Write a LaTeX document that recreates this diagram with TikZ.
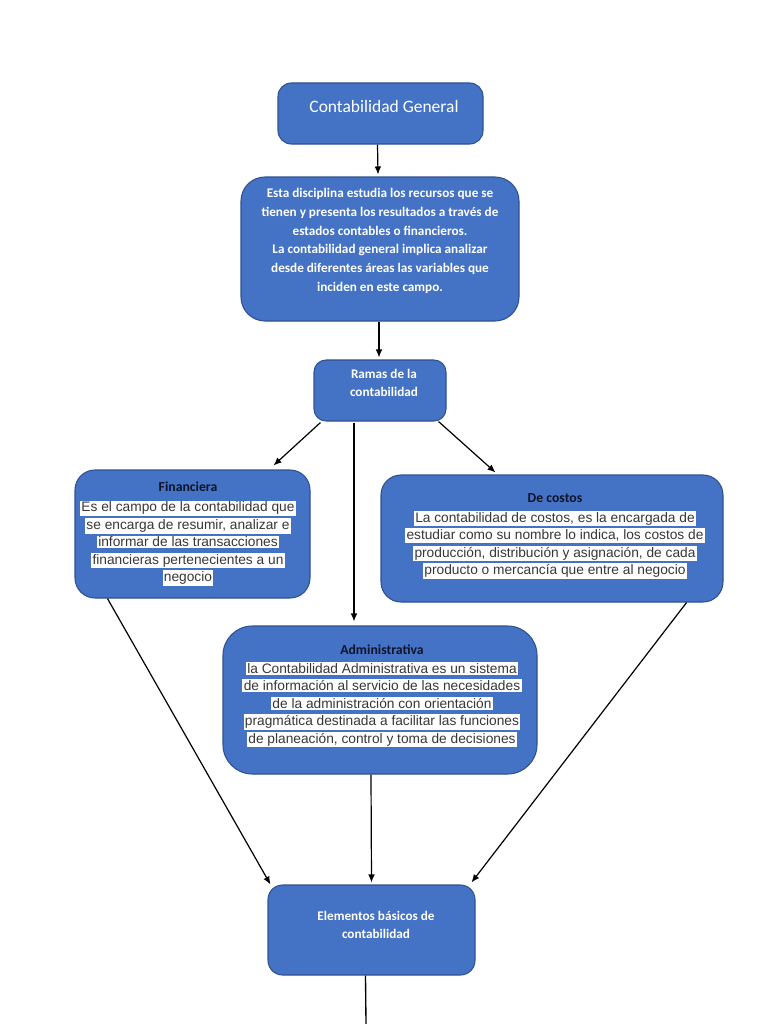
\documentclass[tikz,border=0pt]{standalone}
\usepackage{fontspec}
\setmainfont{Liberation Sans}
\newfontfamily\calibri{Carlito}
\usetikzlibrary{arrows.meta,positioning,calc,fit}
\definecolor{boxblue}{RGB}{68,114,196}
\definecolor{boxedge}{RGB}{47,82,143}
\definecolor{headnavy}{RGB}{16,20,42}
\definecolor{bodygray}{RGB}{55,55,55}
\setlength{\fboxsep}{1pt}
\newcommand{\hl}[1]{\colorbox{white}{#1}}

\tikzset{
  box/.style={draw=boxedge, line width=0.8pt, fill=boxblue, inner sep=0pt},
  whitetxt/.style={text=white, font=\calibri\bfseries\fontsize{9.9}{14}\selectfont, align=center},
  bodytxt/.style={text=bodygray, font=\fontsize{10.3}{13.1}\selectfont, align=center, inner sep=0pt},
  head/.style={font=\calibri\bfseries\fontsize{9.7}{12}\selectfont}
}
\tikzset{arr/.style={line width=0.9pt, -{Latex[length=6pt,width=5pt]}}}

\begin{document}
\begin{tikzpicture}[x=0.75pt,y=-0.75pt]

\useasboundingbox (0,0) rectangle (768,1024);

% Boxes
\node[box, rounded corners=10pt, fit={(278,83) (483,144)}] (gen) {};
\node[box, rounded corners=18pt, fit={(241,177) (519,321)}] (desc) {};
\node[box, rounded corners=9pt, fit={(314,360) (446,421)}] (ramas) {};
\node[box, rounded corners=15pt, fit={(75,470) (310,598)}] (fin) {};
\node[box, rounded corners=15pt, fit={(381,475) (723,602)}] (costos) {};
\node[box, rounded corners=22pt, fit={(223,626) (537,774)}] (admin) {};
\node[box, rounded corners=11pt, fit={(268,885) (475,975)}] (elem) {};

% Texts
\node[text=white, font=\calibri\fontsize{13.1}{15}\selectfont] (gentxt) at (384,107) {Contabilidad General};
\node[whitetxt] (desctxt) at (380,241) {Esta disciplina estudia los recursos que se\\tienen y presenta los resultados a trav\'es de\\estados contables o financieros.\\La contabilidad general implica analizar\\desde diferentes \'areas las variables que\\inciden en este campo.};
\node[whitetxt] (ramastxt) at (384,383) {Ramas de la\\contabilidad};
\node[whitetxt] (elemtxt) at (376,925) {Elementos b\'asicos de\\contabilidad};

\node[bodytxt] (fintxt) at (188,534) {{\calibri\bfseries\color{headnavy}Financiera}\\[2pt]
  \hl{Es el campo de la contabilidad que}\\\hl{se encarga de resumir, analizar e}\\\hl{informar de las transacciones}\\\hl{financieras pertenecientes a un}\\\hl{negocio}};
\node[bodytxt] (costostxt) at (555,536) {{\calibri\bfseries\color{headnavy}De costos}\\[2pt]
  \hl{La contabilidad de costos, es la encargada de}\\\hl{estudiar como su nombre lo indica, los costos de}\\\hl{producci\'on, distribuci\'on y asignaci\'on, de cada}\\\hl{producto o mercanc\'ia que entre al negocio}};
\node[bodytxt] (admintxt) at (382,696) {{\calibri\bfseries\color{headnavy}Administrativa}\\[1pt]
  \hl{la Contabilidad Administrativa es un sistema}\\\hl{de informaci\'on al servicio de las necesidades}\\\hl{de la administraci\'on con orientaci\'on}\\\hl{pragm\'atica destinada a facilitar las funciones}\\\hl{de planeaci\'on, control y toma de decisiones}};

% Connectors
\draw[arr] ($(gen.south)+(-3,0)$) -- ($(desc.north)+(-2,-2)$);
\draw[arr] ($(desc.south)+(-1,0)$) -- ($(ramas.north)+(-1,-2)$);
\draw[arr] ($(ramas.south west)+(7,1)$) -- ($(fin.north east)+(-37,-4)$);
\draw[arr] ($(ramas.south east)+(-8,0)$) -- ($(costos.north west)+(115,-2)$);
\draw[arr] ($(ramas.south)+(-26,1)$) -- ($(admin.north)+(-26,-4)$);
\draw[arr] ($(fin.south west)+(33,0)$) -- ($(elem.north west)+(3,0)$);
\draw[arr] ($(admin.south)+(-9,0)$) -- ($(elem.north)+(0,-2)$);
\draw[arr] ($(costos.south east)+(-37,0)$) -- ($(elem.north east)+(-4,-2)$);
\coordinate (tail) at (366,1024);
\draw[line width=1pt] ($(elem.south)+(-6,0)$) -- (tail);

\end{tikzpicture}
\end{document}
